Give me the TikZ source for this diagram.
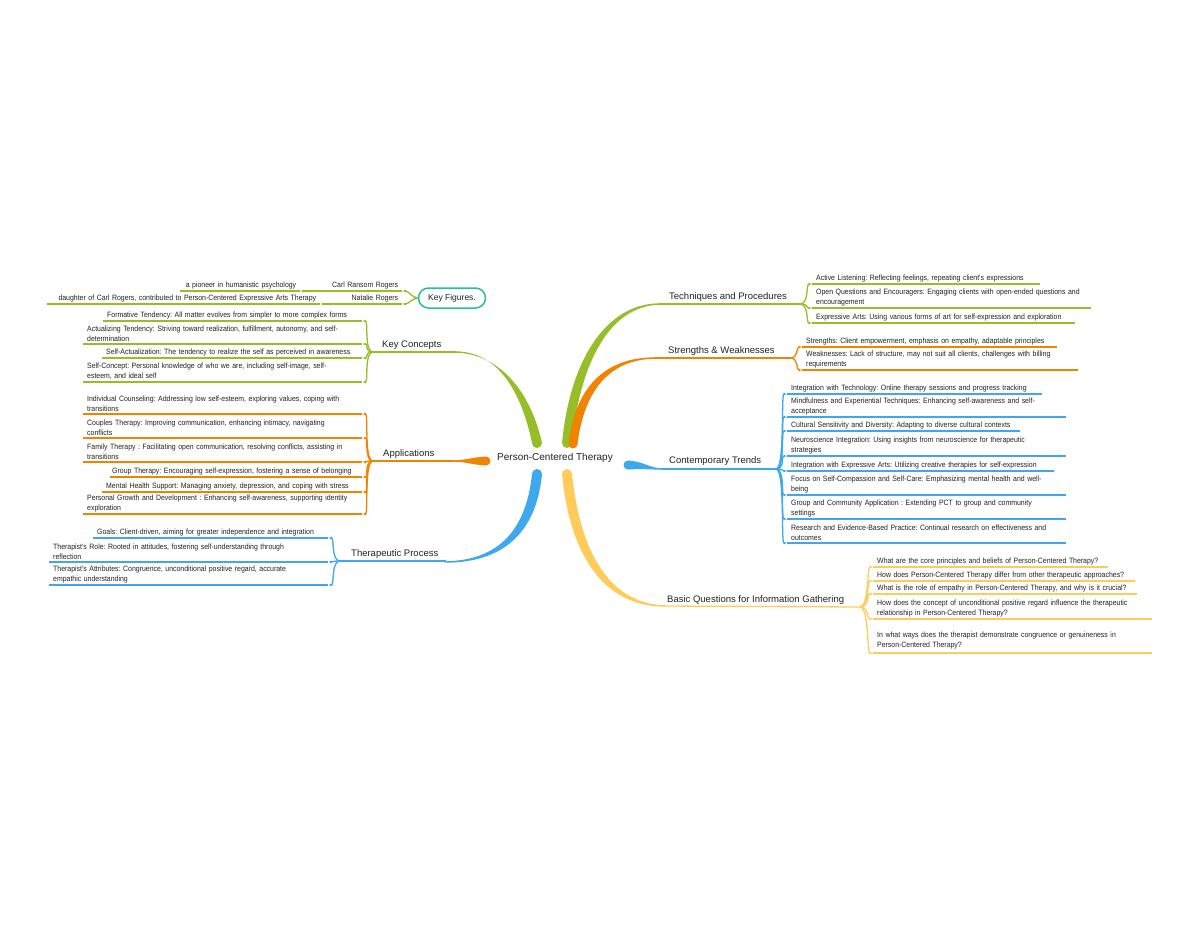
\documentclass[tikz,border=0pt]{standalone}
\usepackage{fontspec}
\setmainfont{Liberation Sans}
\newfontfamily\leaffont[FakeStretch=0.9]{Liberation Sans}
\usetikzlibrary{arrows.meta}
\definecolor{kgreen}{RGB}{150,190,40}
\definecolor{korange}{RGB}{240,132,0}
\definecolor{kblue}{RGB}{62,168,238}
\definecolor{kyellow}{RGB}{255,204,90}
\definecolor{kteal}{RGB}{40,190,160}
\definecolor{ink}{RGB}{35,35,35}
\frenchspacing

\begin{document}
\begin{tikzpicture}[x=1pt, y=-1pt,
  leaf/.style={anchor=south west, inner xsep=4pt, inner ysep=2pt, align=left, text=ink, font=\leaffont\fontsize{7.7}{10}\selectfont},
  rleaf/.style={leaf, align=right},
  branch/.style={anchor=south west, inner sep=2pt, text=ink, font=\fontsize{9.5}{11}\selectfont},
  stem/.style={line width=1.3pt},
  fork/.style={line width=1.3pt, -{Latex[length=3.5pt,width=3pt]}},
  lfork/.style={fork, out=180, in=0, out distance=9pt, in distance=6pt},
  rfork/.style={fork, out=0, in=180, out distance=9pt, in distance=6pt}
]
  \useasboundingbox[fill=white] (0,0) rectangle (1200,927);

  % -- centre --
  \node[text=ink, font=\fontsize{10}{12}\selectfont] (ctr) at (555,458) {Person-Centered Therapy};

  % -- thick tapered arms --
  \fill[kgreen] (532,443) .. controls (521,390) and (497,351.3) .. (455,351.3) -- (455,352.7) .. controls (499,352.9) and (531,392) .. (542,443) -- cycle;
  \fill[kgreen] (537,443) circle (5);
  \fill[kgreen] (562,443) .. controls (570,360) and (606,303.3) .. (660,303.3) -- (660,304.7) .. controls (610,305.5) and (580,362) .. (572,443) -- cycle;
  \fill[kgreen] (567,443) circle (5);
  \fill[korange] (568.5,444) .. controls (575,388) and (604,357.3) .. (655,357.3) -- (655,358.7) .. controls (608,359.5) and (584,392) .. (577.5,444) -- cycle;
  \fill[korange] (573,444) circle (4.5);
  \fill[korange] (486,456.5) .. controls (470,457.5) and (466,460.3) .. (453,460.3) -- (453,461.7) .. controls (466,461.7) and (470,464.5) .. (486,465.5) -- cycle;
  \fill[korange] (486,461) circle (4.5);
  \fill[kblue] (542,474) .. controls (536,536) and (500,562.7) .. (445,562.7) -- (445,561.3) .. controls (497,560.5) and (526,532) .. (532,474) -- cycle;
  \fill[kblue] (537,474) circle (5);
  \fill[kblue] (628,460.5) .. controls (644,461.5) and (650,468.3) .. (662,468.3) -- (662,469.7) .. controls (650,469.7) and (644,468.5) .. (628,469.5) -- cycle;
  \fill[kblue] (628,465) circle (4.5);
  \fill[kyellow] (562,474) .. controls (571,565) and (610,606.7) .. (665,606.7) -- (665,605.3) .. controls (614,604) and (581,560) .. (572,474) -- cycle;
  \fill[kyellow] (567,474) circle (5);

  % -- Key Figures --
  \node[draw=kteal, line width=1.5pt, rounded corners=10pt, minimum width=67pt, minimum height=20pt, text=ink, font=\fontsize{8.5}{10}\selectfont] (kfig) at (452,298) {Key Figures.};
  \node[rleaf, text width=89pt] (carl) at (305,291) {Carl Ransom Rogers};
  \node[rleaf, text width=112pt] (pion) at (180,291) {a pioneer in humanistic psychology};
  \node[rleaf, text width=69pt] (nat) at (325,304) {Natalie Rogers};
  \node[rleaf, text width=265pt] (daug) at (47,304) {daughter of Carl Rogers, contributed to Person-Centered Expressive Arts Therapy};
  \foreach \n in {carl,pion,nat,daug} \draw[kgreen, stem] (\n.south west) -- (\n.south east);
  \draw[kgreen, lfork, out distance=5pt] (kfig.west) to (carl.south east);
  \draw[kgreen, lfork, out distance=5pt] (kfig.west) to (nat.south east);
  \draw[kgreen, fork] (carl.south west) -- (pion.south east);
  \draw[kgreen, fork] (nat.south west) -- (daug.south east);

  % -- Key Concepts --
  \coordinate (kcf) at (373,352);
  \coordinate (kct) at (456,352);
  \node[branch] (kcl) at (380,352) {Key Concepts};
  \node[leaf, text width=251pt] (kc1) at (103,321) {Formative Tendency: All matter evolves from simpler to more complex forms};
  \node[leaf, text width=271pt] (kc2) at (83,344) {Actualizing Tendency: Striving toward realization, fulfillment, autonomy, and self-\\determination};
  \node[leaf, text width=252pt] (kc3) at (102,358) {Self-Actualization: The tendency to realize the self as perceived in awareness};
  \node[leaf, text width=271pt] (kc4) at (83,382) {Self-Concept: Personal knowledge of who we are, including self-image, self-\\esteem, and ideal self};
  \draw[kgreen, stem] (kcf) -- (kct);
  \foreach \n in {kc1,kc2,kc3,kc4}{
    \draw[kgreen, stem] (\n.south west) -- (\n.south east);
    \draw[kgreen, lfork] (kcf) to (\n.south east);
  }

  % -- Applications --
  \coordinate (apf) at (373,461);
  \coordinate (apt) at (454,461);
  \node[branch] (apl) at (381,461) {Applications};
  \node[leaf, text width=271pt] (ap1) at (83,414) {Individual Counseling: Addressing low self-esteem, exploring values, coping with\\transitions};
  \node[leaf, text width=271pt] (ap2) at (83,438) {Couples Therapy: Improving communication, enhancing intimacy, navigating\\conflicts};
  \node[leaf, text width=271pt] (ap3) at (83,462) {Family Therapy : Facilitating open communication, resolving conflicts, assisting in\\transitions};
  \node[leaf, inner xsep=2pt, text width=248pt] (ap4) at (110,477) {Group Therapy: Encouraging self-expression, fostering a sense of belonging};
  \node[leaf, text width=252pt] (ap5) at (102,492) {Mental Health Support: Managing anxiety, depression, and coping with stress};
  \node[leaf, text width=271pt] (ap6) at (83,514) {Personal Growth and Development : Enhancing self-awareness, supporting identity\\exploration};
  \draw[korange, stem] (apf) -- (apt);
  \foreach \n in {ap1,ap2,ap3,ap4,ap5,ap6}{
    \draw[korange, stem] (\n.south west) -- (\n.south east);
    \draw[korange, lfork] (apf) to (\n.south east);
  }

  % -- Therapeutic Process --
  \coordinate (tpf) at (340,561);
  \coordinate (tpt) at (446,561);
  \node[branch] (tpl) at (349,561) {Therapeutic Process};
  \node[leaf, text width=227pt] (tp1) at (93,538) {Goals: Client-driven, aiming for greater independence and integration};
  \node[leaf, text width=271pt] (tp2) at (49,562) {Therapist's Role: Rooted in attitudes, fostering self-understanding through\\reflection};
  \node[leaf, text width=271pt] (tp3) at (49,585) {Therapist's Attributes: Congruence, unconditional positive regard, accurate\\empathic understanding};
  \draw[kblue, stem] (tpf) -- (tpt);
  \foreach \n in {tp1,tp2,tp3}{
    \draw[kblue, stem] (\n.south west) -- (\n.south east);
    \draw[kblue, lfork] (tpf) to (\n.south east);
  }

  % -- Techniques and Procedures --
  \coordinate (tcf) at (800,304);
  \coordinate (tct) at (659,304);
  \node[branch] (tcl) at (667,304) {Techniques and Procedures};
  \node[leaf, text width=220pt] (tc1) at (812,284) {Active Listening: Reflecting feelings, repeating client's expressions};
  \node[leaf, text width=271pt] (tc2) at (812,308) {Open Questions and Encouragers: Engaging clients with open-ended questions and\\encouragement};
  \node[leaf, text width=255pt] (tc3) at (812,323) {Expressive Arts: Using various forms of art for self-expression and exploration};
  \draw[kgreen, stem] (tcf) -- (tct);
  \foreach \n in {tc1,tc2,tc3}{
    \draw[kgreen, stem] (\n.south west) -- (\n.south east);
    \draw[kgreen, rfork] (tcf) to (\n.south west);
  }

  % -- Strengths & Weaknesses --
  \coordinate (swf) at (790,358);
  \coordinate (swt) at (654,358);
  \node[branch] (swl) at (666,358) {Strengths \& Weaknesses};
  \node[leaf, text width=247pt] (sw1) at (802,347) {Strengths: Client empowerment, emphasis on empathy, adaptable principles};
  \node[leaf, text width=268pt] (sw2) at (802,370) {Weaknesses: Lack of structure, may not suit all clients, challenges with billing\\requirements};
  \draw[korange, stem] (swf) -- (swt);
  \foreach \n in {sw1,sw2}{
    \draw[korange, stem] (\n.south west) -- (\n.south east);
    \draw[korange, rfork] (swf) to (\n.south west);
  }

  % -- Contemporary Trends --
  \coordinate (ctf) at (776,469);
  \coordinate (ctt) at (661,469);
  \node[branch] (ctl) at (667,468) {Contemporary Trends};
  \node[leaf, text width=247pt] (ct1) at (787,394) {Integration with Technology: Online therapy sessions and progress tracking};
  \node[leaf, text width=271pt] (ct2) at (787,417) {Mindfulness and Experiential Techniques: Enhancing self-awareness and self-\\acceptance};
  \node[leaf, text width=225pt] (ct3) at (787,431) {Cultural Sensitivity and Diversity: Adapting to diverse cultural contexts};
  \node[leaf, text width=271pt] (ct4) at (787,456) {Neuroscience Integration: Using insights from neuroscience for therapeutic\\strategies};
  \node[leaf, text width=259pt] (ct5) at (787,471) {Integration with Expressive Arts: Utilizing creative therapies for self-expression};
  \node[leaf, text width=271pt] (ct6) at (787,495) {Focus on Self-Compassion and Self-Care: Emphasizing mental health and well-\\being};
  \node[leaf, text width=271pt] (ct7) at (787,519) {Group and Community Application : Extending PCT to group and community\\settings};
  \node[leaf, text width=271pt] (ct8) at (787,543) {Research and Evidence-Based Practice: Continual research on effectiveness and\\outcomes};
  \draw[kblue, stem] (ctf) -- (ctt);
  \foreach \n in {ct1,ct2,ct3,ct4,ct5,ct6,ct7,ct8}{
    \draw[kblue, stem] (\n.south west) -- (\n.south east);
    \draw[kblue, rfork] (ctf) to (\n.south west);
  }

  % -- Basic Questions --
  \coordinate (bqf) at (860,607);
  \coordinate (bqt) at (664,606);
  \node[branch] (bql) at (665,607) {Basic Questions for Information Gathering};
  \node[leaf, text width=227pt] (bq1) at (873,567) {What are the core principles and beliefs of Person-Centered Therapy?};
  \node[leaf, text width=254pt] (bq2) at (873,581) {How does Person-Centered Therapy differ from other therapeutic approaches?};
  \node[leaf, text width=256pt] (bq3) at (873,594) {What is the role of empathy in Person-Centered Therapy, and why is it crucial?};
  \node[leaf, text width=271pt] (bq4) at (873,619) {How does the concept of unconditional positive regard influence the therapeutic\\relationship in Person-Centered Therapy?};
  \node[leaf, text width=271pt, text depth=13pt] (bq5) at (873,653) {In what ways does the therapist demonstrate congruence or genuineness in\\Person-Centered Therapy?};
  \draw[kyellow, stem] (bqf) -- (bqt);
  \foreach \n in {bq1,bq2,bq3,bq4,bq5}{
    \draw[kyellow, stem] (\n.south west) -- (\n.south east);
    \draw[kyellow, rfork] (bqf) to (\n.south west);
  }
\end{tikzpicture}
\end{document}
